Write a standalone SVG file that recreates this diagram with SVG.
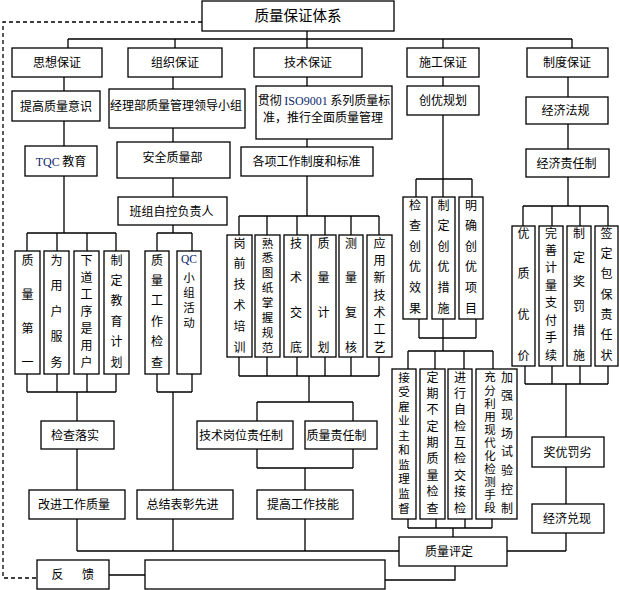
<svg xmlns="http://www.w3.org/2000/svg" width="619" height="590" viewBox="0 0 619 590">
<style>
rect{fill:#fff;stroke:#000;stroke-width:1.3}
.c path{fill:none;stroke:#000;stroke-width:1.3}
.d{fill:none;stroke:#000;stroke-width:1.2;stroke-dasharray:4 3}
text{font-family:"Noto Sans CJK SC","Noto Sans CJK TC",sans-serif;font-size:12px;fill:#000;text-anchor:middle}
.t{font-size:14.5px}
.s1{font-size:11.5px}
.vt{writing-mode:vertical-rl;text-anchor:start;font-size:11.5px;letter-spacing:1.6px}
.lat{font-family:"Liberation Serif",serif;fill:#0b1f70}
</style>
<rect x="0" y="0" width="619" height="590" style="fill:#fff;stroke:none"/>
<g class="c" id="connectors">
<path d="M307 31V48M68 39H572M68 39V48M175 39V48M443 39V48M572 39V48"/>
<path d="M64 77V91M64 121V146M64 176V233M27 233H116M27 233V251M57 233V251M87 233V251M116 233V251"/>
<path d="M173 77V89M173 128V142M173 178V197M173 225V233M157 233H192M157 233V251M192 233V251"/>
<path d="M307 77V86M307 139V147M307 176V216M239 216H379M239 216V235M267 216V235M297 216V235M325 216V235M351 216V235M379 216V235"/>
<path d="M443 77V86M443 115V179M416 179H472M416 179V197M443 179V197M472 179V197"/>
<path d="M568 77V97M568 124V149M568 177V206M523 206H608M523 206V226M552 206V226M580 206V226M608 206V226"/>
<path d="M27 374V392M57 374V392M87 374V392M116 374V392M27 392H116M77 392V421M77 449V490M77 519V551"/>
<path d="M157 374V392M192 374V392M157 392H192M173 392V490M173 519V551"/>
<path d="M239 357V376M267 357V376M297 357V376M325 357V376M351 357V376M379 357V376M239 376H379M309 376V402M257 402H353M257 402V421M353 402V421M257 449V468M353 449V468M257 468H353M305 468V490M305 519V551"/>
<path d="M77 551H399"/>
<path d="M419 319V338M443 319V338M476 319V338M419 338H476M443 338V351M408 351H493M408 351V369M435 351V369M464 351V369M493 351V369"/>
<path d="M408 519V528M436 519V528M465 519V528M492 519V528M408 528H492M453 528V537"/>
<path d="M525 366V384M552 366V384M580 366V384M608 366V384M525 384H608M566 384V437M566 467V504M566 533V551M507 551H566"/>
<path d="M455 566V580H385M109 575H145"/>
<path class="d" d="M202 22H3V578H37"/>
</g>
<g id="n-title"><rect x="202" y="1" width="192" height="30"/><text class="t" x="298" y="21">质量保证体系</text></g>
<g id="n-sixiang"><rect x="12" y="48" width="90" height="29"/><text x="57" y="67">思想保证</text></g>
<g id="n-zuzhi"><rect x="128" y="48" width="94" height="29"/><text x="175" y="67">组织保证</text></g>
<g id="n-jishu"><rect x="254" y="48" width="108" height="29"/><text x="308" y="67">技术保证</text></g>
<g id="n-shigong"><rect x="407" y="48" width="72" height="29"/><text x="443" y="67">施工保证</text></g>
<g id="n-zhidu"><rect x="527" y="48" width="81" height="29"/><text x="567" y="67">制度保证</text></g>
<g id="n-tigao"><rect x="12" y="91" width="88" height="30"/><text x="56" y="110.5">提高质量意识</text></g>
<g id="n-tqc"><rect x="25" y="146" width="72" height="30"/><text x="61" y="165.5"><tspan class="lat">TQC</tspan> 教育</text></g>
<g id="n-jinglibu"><rect x="109" y="89" width="136" height="39"/><text x="176" y="109.5">经理部质量管理领导小组</text></g>
<g id="n-anquan"><rect x="117" y="142" width="113" height="36"/><text x="172.5" y="161.5">安全质量部</text></g>
<g id="n-banzu"><rect x="118" y="197" width="109" height="28"/><text x="171.5" y="215.5">班组自控负责人</text></g>
<g id="n-iso"><rect x="256" y="86" width="136" height="53"/><text x="324" y="104.5">贯彻 <tspan class="lat">ISO9001</tspan> 系列质量标</text><text x="323" y="121.5">准，推行全面质量管理</text></g>
<g id="n-gexiang"><rect x="241" y="147" width="132" height="29"/><text x="306.5" y="165.5">各项工作制度和标准</text></g>
<g id="n-chuangyou"><rect x="407" y="86" width="72" height="29"/><text x="443" y="104.5">创优规划</text></g>
<g id="n-fagui"><rect x="526" y="97" width="82" height="27"/><text x="565.5" y="114.5">经济法规</text></g>
<g id="n-zerenzhi"><rect x="526" y="149" width="83" height="28"/><text x="566.5" y="167.5">经济责任制</text></g>

<g id="n-a1"><rect x="15" y="251" width="25" height="123"/><text><tspan x="27.5" y="264.5">质</tspan><tspan x="27.5" y="298.5">量</tspan><tspan x="27.5" y="332.5">第</tspan><tspan x="27.5" y="366.5">一</tspan></text></g>
<g id="n-a2"><rect x="44" y="251" width="25" height="123"/><text><tspan x="56.5" y="264.5">为</tspan><tspan x="56.5" y="290">用</tspan><tspan x="56.5" y="315.5">户</tspan><tspan x="56.5" y="341">服</tspan><tspan x="56.5" y="366.5">务</tspan></text></g>
<g id="n-a3"><rect x="74" y="251" width="25" height="123"/><text><tspan x="86.5" y="264.5">下</tspan><tspan x="86.5" y="281.5">道</tspan><tspan x="86.5" y="298.5">工</tspan><tspan x="86.5" y="315.5">序</tspan><tspan x="86.5" y="332.5">是</tspan><tspan x="86.5" y="349.5">用</tspan><tspan x="86.5" y="366.5">户</tspan></text></g>
<g id="n-a4"><rect x="104" y="251" width="25" height="123"/><text><tspan x="116.5" y="264.5">制</tspan><tspan x="116.5" y="284.9">定</tspan><tspan x="116.5" y="305.3">教</tspan><tspan x="116.5" y="325.7">育</tspan><tspan x="116.5" y="346.1">计</tspan><tspan x="116.5" y="366.5">划</tspan></text></g>
<g id="n-a5"><rect x="145" y="251" width="24" height="123"/><text><tspan x="157" y="264.5">质</tspan><tspan x="157" y="284.9">量</tspan><tspan x="157" y="305.3">工</tspan><tspan x="157" y="325.7">作</tspan><tspan x="157" y="346.1">检</tspan><tspan x="157" y="366.5">查</tspan></text></g>
<g id="n-a6"><rect x="177" y="251" width="24" height="123"/><text class="s1"><tspan class="lat" x="189" y="262.5">QC</tspan><tspan x="189" y="281.5">小</tspan><tspan x="189" y="296.5">组</tspan><tspan x="189" y="311.5">活</tspan><tspan x="189" y="326.5">动</tspan></text></g>

<g id="n-b1"><rect x="227" y="235" width="25" height="122"/><text><tspan x="239.5" y="247.5">岗</tspan><tspan x="239.5" y="268.3">前</tspan><tspan x="239.5" y="289.1">技</tspan><tspan x="239.5" y="309.9">术</tspan><tspan x="239.5" y="330.7">培</tspan><tspan x="239.5" y="351.5">训</tspan></text></g>
<g id="n-b2"><rect x="255" y="235" width="25" height="122"/><text class="s1"><tspan x="267.5" y="247.5">熟</tspan><tspan x="267.5" y="262.4">悉</tspan><tspan x="267.5" y="277.2">图</tspan><tspan x="267.5" y="292.1">纸</tspan><tspan x="267.5" y="306.9">掌</tspan><tspan x="267.5" y="321.8">握</tspan><tspan x="267.5" y="336.6">规</tspan><tspan x="267.5" y="351.5">范</tspan></text></g>
<g id="n-b3"><rect x="284" y="235" width="24" height="122"/><text><tspan x="296" y="247.5">技</tspan><tspan x="296" y="282.2">术</tspan><tspan x="296" y="316.8">交</tspan><tspan x="296" y="351.5">底</tspan></text></g>
<g id="n-b4"><rect x="311" y="235" width="25" height="122"/><text><tspan x="323.5" y="247.5">质</tspan><tspan x="323.5" y="282.2">量</tspan><tspan x="323.5" y="316.8">计</tspan><tspan x="323.5" y="351.5">划</tspan></text></g>
<g id="n-b5"><rect x="339" y="235" width="24" height="122"/><text><tspan x="351" y="247.5">测</tspan><tspan x="351" y="282.2">量</tspan><tspan x="351" y="316.8">复</tspan><tspan x="351" y="351.5">核</tspan></text></g>
<g id="n-b6"><rect x="367" y="235" width="25" height="122"/><text><tspan x="379.5" y="247.5">应</tspan><tspan x="379.5" y="264.8">用</tspan><tspan x="379.5" y="282.2">新</tspan><tspan x="379.5" y="299.5">技</tspan><tspan x="379.5" y="316.8">术</tspan><tspan x="379.5" y="334.2">工</tspan><tspan x="379.5" y="351.5">艺</tspan></text></g>

<g id="n-c1"><rect x="403" y="197" width="24" height="122"/><text><tspan x="415" y="209.5">检</tspan><tspan x="415" y="230.1">查</tspan><tspan x="415" y="250.7">创</tspan><tspan x="415" y="271.3">优</tspan><tspan x="415" y="291.9">效</tspan><tspan x="415" y="312.5">果</tspan></text></g>
<g id="n-c2"><rect x="432" y="197" width="23" height="122"/><text><tspan x="443.5" y="209.5">制</tspan><tspan x="443.5" y="230.1">定</tspan><tspan x="443.5" y="250.7">创</tspan><tspan x="443.5" y="271.3">优</tspan><tspan x="443.5" y="291.9">措</tspan><tspan x="443.5" y="312.5">施</tspan></text></g>
<g id="n-c3"><rect x="459" y="197" width="24" height="122"/><text><tspan x="471" y="209.5">明</tspan><tspan x="471" y="230.1">确</tspan><tspan x="471" y="250.7">创</tspan><tspan x="471" y="271.3">优</tspan><tspan x="471" y="291.9">项</tspan><tspan x="471" y="312.5">目</tspan></text></g>

<g id="n-d1"><rect x="512" y="226" width="23" height="140"/><text><tspan x="523.5" y="237.5">优</tspan><tspan x="523.5" y="278.2">质</tspan><tspan x="523.5" y="318.8">优</tspan><tspan x="523.5" y="359.5">价</tspan></text></g>
<g id="n-d2"><rect x="539" y="226" width="24" height="140"/><text><tspan x="551" y="237.5">完</tspan><tspan x="551" y="254.9">善</tspan><tspan x="551" y="272.4">计</tspan><tspan x="551" y="289.8">量</tspan><tspan x="551" y="307.2">支</tspan><tspan x="551" y="324.6">付</tspan><tspan x="551" y="342.1">手</tspan><tspan x="551" y="359.5">续</tspan></text></g>
<g id="n-d3"><rect x="567" y="226" width="24" height="140"/><text><tspan x="579" y="237.5">制</tspan><tspan x="579" y="261.9">定</tspan><tspan x="579" y="286.3">奖</tspan><tspan x="579" y="310.7">罚</tspan><tspan x="579" y="335.1">措</tspan><tspan x="579" y="359.5">施</tspan></text></g>
<g id="n-d4"><rect x="595" y="226" width="23" height="140"/><text><tspan x="606.5" y="237.5">签</tspan><tspan x="606.5" y="257.8">定</tspan><tspan x="606.5" y="278.2">包</tspan><tspan x="606.5" y="298.5">保</tspan><tspan x="606.5" y="318.8">责</tspan><tspan x="606.5" y="339.2">任</tspan><tspan x="606.5" y="359.5">状</tspan></text></g>

<g id="n-e1"><rect x="392" y="369" width="24" height="150"/><text class="s1"><tspan x="404" y="381.5">接</tspan><tspan x="404" y="396.1">受</tspan><tspan x="404" y="410.6">雇</tspan><tspan x="404" y="425.2">业</tspan><tspan x="404" y="439.7">主</tspan><tspan x="404" y="454.3">和</tspan><tspan x="404" y="468.8">监</tspan><tspan x="404" y="483.4">理</tspan><tspan x="404" y="497.9">监</tspan><tspan x="404" y="512.5">督</tspan></text></g>
<g id="n-e2"><rect x="420" y="369" width="25" height="150"/><text><tspan x="432.5" y="381.5">定</tspan><tspan x="432.5" y="397.9">期</tspan><tspan x="432.5" y="414.3">不</tspan><tspan x="432.5" y="430.6">定</tspan><tspan x="432.5" y="447">期</tspan><tspan x="432.5" y="463.4">质</tspan><tspan x="432.5" y="479.8">量</tspan><tspan x="432.5" y="496.1">检</tspan><tspan x="432.5" y="512.5">查</tspan></text></g>
<g id="n-e3"><rect x="448" y="369" width="24" height="150"/><text><tspan x="460" y="381.5">进</tspan><tspan x="460" y="397.9">行</tspan><tspan x="460" y="414.3">自</tspan><tspan x="460" y="430.6">检</tspan><tspan x="460" y="447">互</tspan><tspan x="460" y="463.4">检</tspan><tspan x="460" y="479.8">交</tspan><tspan x="460" y="496.1">接</tspan><tspan x="460" y="512.5">检</tspan></text></g>
<g id="n-e4"><rect x="476" y="369" width="41" height="150"/><text class="vt" x="490" y="371.3">充分利用现代化检测手段</text><text><tspan x="507" y="381.5">加</tspan><tspan x="507" y="400.2">强</tspan><tspan x="507" y="418.9">现</tspan><tspan x="507" y="437.6">场</tspan><tspan x="507" y="456.4">试</tspan><tspan x="507" y="475.1">验</tspan><tspan x="507" y="493.8">控</tspan><tspan x="507" y="512.5">制</tspan></text></g>

<g id="n-jiancha"><rect x="41" y="421" width="73" height="28"/><text x="75" y="439.5">检查落实</text></g>
<g id="n-gaijin"><rect x="29" y="490" width="96" height="29"/><text x="74" y="509">改进工作质量</text></g>
<g id="n-zongjie"><rect x="137" y="490" width="96" height="29"/><text x="182.5" y="509">总结表彰先进</text></g>
<g id="n-gangwei"><rect x="197" y="421" width="96" height="28"/><text x="241" y="439.5">技术岗位责任制</text></g>
<g id="n-zhiliangzeren"><rect x="305" y="421" width="72" height="28"/><text x="336.5" y="439.5">质量责任制</text></g>
<g id="n-jineng"><rect x="257" y="490" width="96" height="29"/><text x="303" y="509">提高工作技能</text></g>
<g id="n-fankui"><rect x="37" y="560" width="72" height="29"/><text y="579"><tspan x="57.5">反</tspan><tspan x="88">馈</tspan></text></g>
<g id="n-blank"><rect x="145" y="560" width="240" height="29"/></g>
<g id="n-pingding"><rect x="399" y="537" width="108" height="29"/><text x="449" y="556">质量评定</text></g>
<g id="n-jiangyou"><rect x="532" y="437" width="72" height="30"/><text x="567.5" y="456.5">奖优罚劣</text></g>
<g id="n-duixian"><rect x="532" y="504" width="72" height="29"/><text x="567" y="523">经济兑现</text></g>
</svg>
